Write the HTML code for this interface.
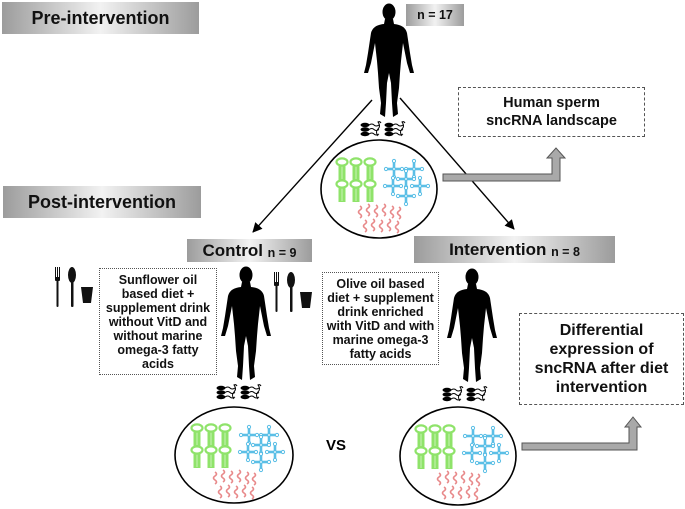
<!DOCTYPE html>
<html><head><meta charset="utf-8"><style>
body{margin:0;width:685px;height:509px;background:#fff;position:relative;overflow:hidden;font-family:"Liberation Sans",Arial,sans-serif;font-weight:bold;color:#111}
.g{position:absolute;background:linear-gradient(to right,#9c9c9c,#f2f2f2 50%,#9c9c9c);display:flex;align-items:center;justify-content:center;white-space:nowrap}
.d{position:absolute;border:1px dotted #555;display:flex;align-items:center;justify-content:center;text-align:center;font-size:12.5px;line-height:14px;box-sizing:border-box}
.dash{position:absolute;border:1.5px dashed #555;display:flex;align-items:center;justify-content:center;text-align:center;box-sizing:border-box}
svg{position:absolute;left:0;top:0}
</style></head><body>
<svg width="685" height="509" viewBox="0 0 685 509">
<defs>
<marker id="ah" viewBox="0 0 10 10" refX="9" refY="5" markerWidth="7" markerHeight="7" orient="auto"><path d="M0,0 L10,5 L0,10 Z" fill="#000"/></marker>
<g id="person"><ellipse cx="25" cy="9" rx="6.5" ry="8.5" fill="#000"/>
<path d="M21,16 L29,16 L30,21 Q41,22 43,30 L46,50 L48,62 L50,70 L46,70 L43,60 L39,40 L37,58 L36,70 L35,85 L33,100 L34,111 L29,114 L28,100 L27,80 L25,70 L23,80 L22,100 L21,114 L16,111 L17,100 L15,85 L14,70 L13,58 L11,40 L7,60 L4,70 L0,70 L2,62 L4,50 L7,30 Q9,22 20,21 Z" fill="#000"/></g>
<g id="sperm" fill="#000" stroke="#000">
<g><ellipse cx="4" cy="3" rx="4" ry="1.7"/><ellipse cx="4" cy="7.5" rx="4" ry="1.7"/><ellipse cx="4" cy="12" rx="4" ry="1.7"/>
<path d="M8,3 q3,-2 5,0 t5,0 M8,7.5 q3,-2 5,0 t5,0 M8,12 q3,-2 5,0 t5,0 M17,14 q-3,-4 0,-7 t0,-7 q2,-1 3,1" fill="none" stroke-width="1"/></g>
<g transform="translate(24,0)"><ellipse cx="4" cy="3" rx="4" ry="1.7"/><ellipse cx="4" cy="7.5" rx="4" ry="1.7"/><ellipse cx="4" cy="12" rx="4" ry="1.7"/>
<path d="M8,3 q3,-2 5,0 t5,0 M8,7.5 q3,-2 5,0 t5,0 M8,12 q3,-2 5,0 t5,0 M17,14 q-3,-4 0,-7 t0,-7 q2,-1 3,1" fill="none" stroke-width="1"/></g>
</g>
<g id="sl"><rect x="2.5" y="6" width="7" height="16" fill="#8fe36a"/><line x1="6" y1="8" x2="6" y2="21" stroke="#c9f3b5" stroke-width="1"/><ellipse cx="6" cy="4" rx="5.5" ry="3.6" fill="#fff" stroke="#8fe36a" stroke-width="2.2"/></g>
<g id="cr" stroke="#5bbfe6" stroke-width="2.6" fill="#fff"><line x1="-8" y1="0" x2="8" y2="0"/><line x1="0" y1="-8" x2="0" y2="8"/><g stroke-width="1"><circle cx="-8" cy="0" r="1.6"/><circle cx="8" cy="0" r="1.6"/><circle cx="0" cy="-8" r="1.6"/><circle cx="0" cy="8" r="1.6"/><circle cx="0" cy="0" r="1.4"/></g></g>
<path id="sq" d="M0,0 q3,2 0,4 t0,4 t0,4" fill="none" stroke="#e8898a" stroke-width="1.6"/>
<g id="content">
<use href="#sl" x="-43" y="-31"/><use href="#sl" x="-29" y="-31"/><use href="#sl" x="-15" y="-31"/>
<use href="#sl" x="-43" y="-9"/><use href="#sl" x="-29" y="-9"/><use href="#sl" x="-15" y="-9"/>
<use href="#cr" x="15" y="-20"/><use href="#cr" x="35" y="-20"/><use href="#cr" x="27" y="-10"/><use href="#cr" x="14" y="-3"/><use href="#cr" x="41" y="-3"/><use href="#cr" x="27" y="7"/>
<use href="#sq" x="-19" y="17"/><use href="#sq" x="-11" y="15"/><use href="#sq" x="-3" y="16"/><use href="#sq" x="5" y="15"/><use href="#sq" x="13" y="17"/><use href="#sq" x="20" y="18"/>
<use href="#sq" x="-14" y="31"/><use href="#sq" x="-6" y="30"/><use href="#sq" x="2" y="31"/><use href="#sq" x="10" y="30"/><use href="#sq" x="18" y="32"/>
</g>
<g id="cut" fill="#111"><rect x="1" y="0" width="1" height="12"/><rect x="3" y="0" width="1" height="12"/><rect x="5" y="0" width="1" height="12"/><rect x="1" y="10" width="5" height="4" rx="1"/><rect x="2.5" y="12" width="2" height="28" rx="1"/>
<ellipse cx="18" cy="8" rx="4" ry="8"/><rect x="17" y="12" width="2.5" height="28" rx="1"/>
<path d="M27,20 L39,20 L37,36 L29,36 Z"/></g>
</defs>
<line x1="372" y1="100" x2="253" y2="232" stroke="#000" stroke-width="1.4" marker-end="url(#ah)"/>
<line x1="400" y1="98" x2="514" y2="229" stroke="#000" stroke-width="1.4" marker-end="url(#ah)"/>
<use href="#person" x="364" y="3"/>
<use href="#sperm" x="361" y="122"/>
<ellipse cx="379" cy="189" rx="58" ry="49" fill="#fff" stroke="#000" stroke-width="1.6"/>
<use href="#content" x="379" y="189"/>
<path d="M443,174 L552,174 L552,158 L547,158 L556,148 L565,158 L560,158 L560,181 L443,181 Z" fill="#a9a9a9" stroke="#555" stroke-width="1"/>
<use href="#person" x="221" y="266" transform="translate(0,0)"/>
<use href="#sperm" x="217" y="385"/>
<ellipse cx="234" cy="455" rx="59" ry="48" fill="#fff" stroke="#000" stroke-width="1.6"/>
<use href="#content" x="234" y="455"/>
<use href="#person" x="447" y="268"/>
<use href="#sperm" x="443" y="387"/>
<ellipse cx="458" cy="456" rx="58" ry="49" fill="#fff" stroke="#000" stroke-width="1.6"/>
<use href="#content" x="458" y="456"/>
<path d="M522,443 L629,443 L629,427 L625,427 L633,417 L641,427 L637,427 L637,450 L522,450 Z" fill="#a9a9a9" stroke="#555" stroke-width="1"/>
<use href="#cut" x="54" y="267"/>
<use href="#cut" x="273" y="272"/>
<text x="336" y="450" font-size="15" text-anchor="middle" font-family="Liberation Sans,sans-serif" font-weight="bold">VS</text>
</svg>
<div class="g" style="left:2px;top:2px;width:197px;height:32px;font-size:18px">Pre-intervention</div>
<div class="g" style="left:406px;top:4px;width:58px;height:22px;font-size:12.5px">n = 17</div>
<div class="g" style="left:3px;top:186px;width:198px;height:32px;font-size:18px">Post-intervention</div>
<div class="g" style="left:187px;top:239px;width:125px;height:23px;font-size:17px">Control&nbsp;<span style="font-size:12.5px;position:relative;top:2px">n = 9</span></div>
<div class="g" style="left:414px;top:236px;width:201px;height:27px;font-size:17px">Intervention&nbsp;<span style="font-size:12.5px;position:relative;top:2px">n = 8</span></div>
<div class="dash" style="left:458px;top:87px;width:187px;height:50px;font-size:14.5px;line-height:18px">Human sperm<br>sncRNA landscape</div>
<div class="dash" style="left:519px;top:313px;width:165px;height:92px;font-size:16px;line-height:19px">Differential<br>expression of<br>sncRNA after diet<br>intervention</div>
<div class="d" style="left:99px;top:268px;width:118px;height:107px">Sunflower oil<br>based diet +<br>supplement drink<br>without VitD and<br>without marine<br>omega-3 fatty<br>acids</div>
<div class="d" style="left:322px;top:272px;width:117px;height:93px">Olive oil based<br>diet + supplement<br>drink enriched<br>with VitD and with<br>marine omega-3<br>fatty acids</div>
</body></html>
